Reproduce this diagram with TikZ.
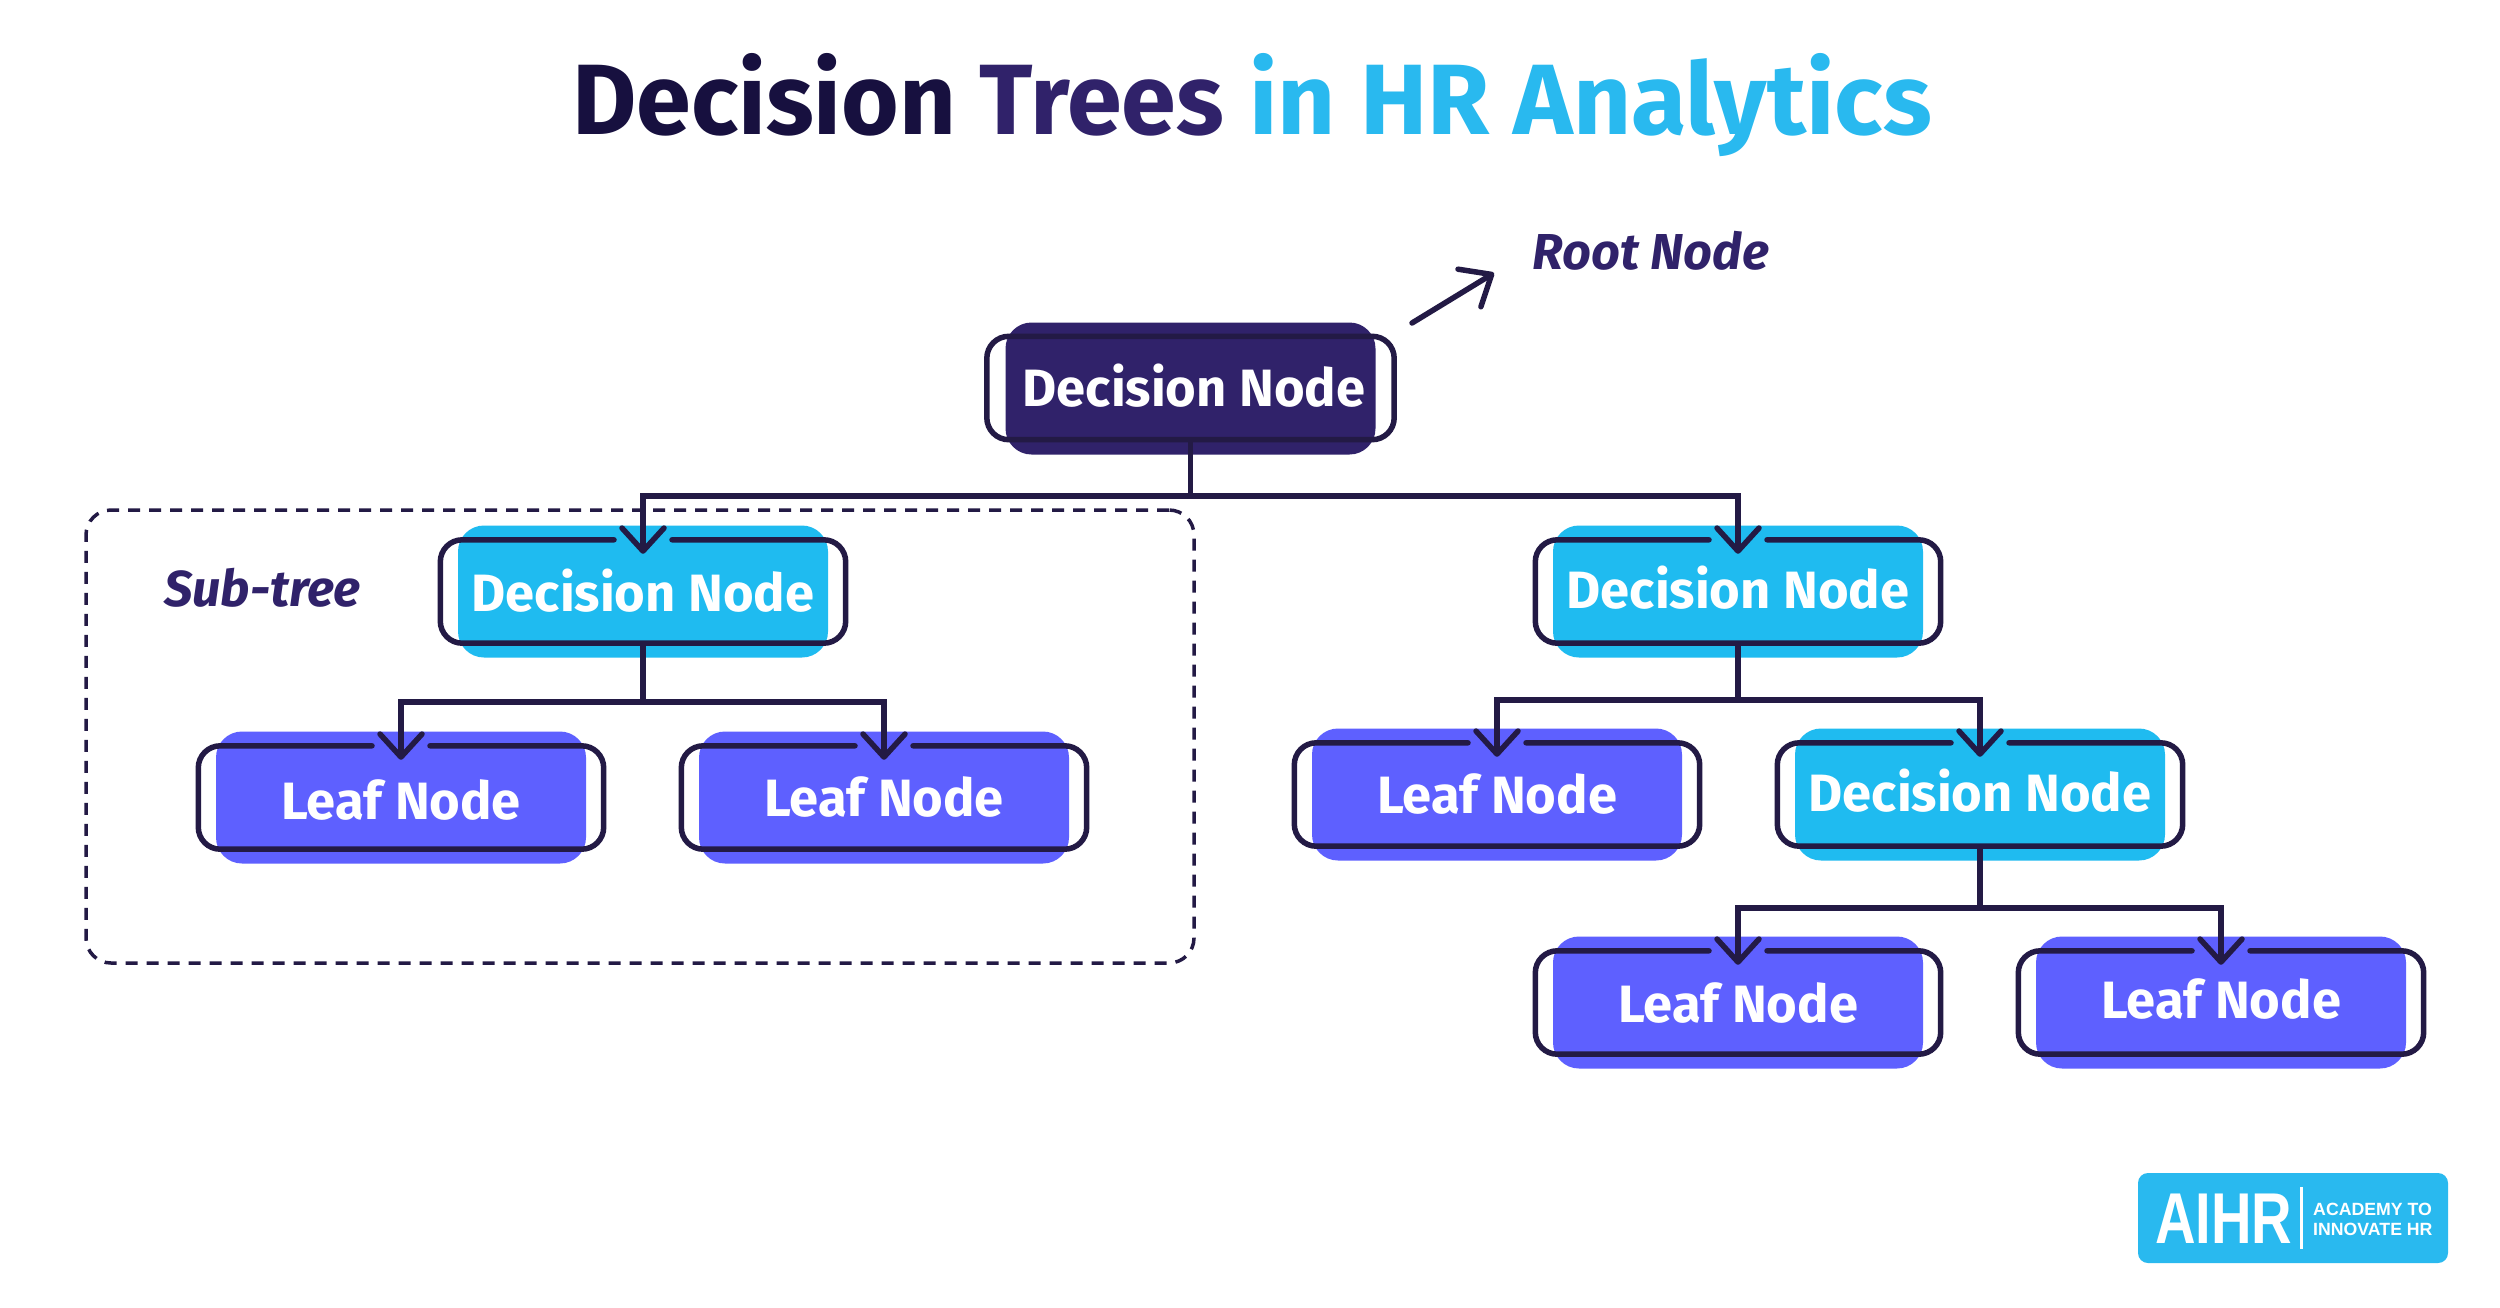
\documentclass[tikz,border=0pt]{standalone}
\usepackage{fontspec}
\usepackage{graphicx}
\setmainfont{Fira Sans}
\newfontfamily\logofont{Liberation Sans}
\usetikzlibrary{arrows.meta,calc}
\definecolor{ink}{HTML}{231A45}
\definecolor{navy}{HTML}{17103F}
\definecolor{plum}{HTML}{30226A}
\definecolor{sky}{HTML}{1FBBF0}
\definecolor{peri}{HTML}{5E60FF}
\definecolor{logosky}{HTML}{29B9EF}
\tikzset{
  x=1pt,y=-1pt,
  fillbox/.style={rectangle,rounded corners=26pt,minimum width=370pt,minimum height=132pt,inner sep=0pt},
  outlinebox/.style={rectangle,minimum width=405pt,minimum height=103pt,inner sep=0pt},
  nodetext/.style={text=white,inner sep=0pt,font=\fontsize{52.5}{60}\selectfont\bfseries},
  frameline/.style={draw=ink,line width=5.5pt,rounded corners=22pt,line cap=round},
  link/.style={draw=ink,line width=5.5pt},
  linkarrow/.style={draw=ink,line width=5.5pt,shorten >=-14pt,-{Straight Barb[length=23pt,width=42pt,line width=5.5pt,round=false]}},
  italiclabel/.style={text=plum,inner sep=0pt,font=\fontsize{50.5}{60}\selectfont\itshape\bfseries},
}
% name, cx, cy, colour, text y, text
\newcommand{\treebox}[6]{%
  \node[fillbox,fill=#4] (#1) at (#2,#3) {};
  \node[outlinebox] (#1-o) at (#2,#3) {};
  \node[nodetext] (#1-t) at (#2,#5) {#6};
  \draw[frameline] ($(#1-o.north)+(-29,0)$) -- (#1-o.north west) -- (#1-o.south west) -- (#1-o.south east) -- (#1-o.north east) -- ($(#1-o.north)+(29,0)$);
}
\begin{document}
\begin{tikzpicture}
\useasboundingbox (0,0) rectangle (2500,1307);
\fill[white] (0,0) rectangle (2500,1307);
% title
\node[inner sep=0pt,anchor=base,font=\fontsize{100}{120}\selectfont\bfseries] (title) at (1252,134)
  {\scalebox{0.988}[1]{\textcolor{navy}{Decision} \textcolor{plum}{Trees}}\hspace{2pt} \scalebox{1.01}[1]{\textcolor{logosky}{in HR Analytics}}};
% sub-tree frame
\node[rectangle,draw=ink,line width=3.5pt,dash pattern=on 12pt off 9pt,rounded corners=25pt,minimum width=1108pt,minimum height=453pt,inner sep=0pt] (subtree) at (640,736.5) {};
\node[italiclabel,anchor=base west] (sublabel) at (164,606) {Sub-tree};
% boxes
\node[fillbox,fill=plum] (root) at (1190.5,388.5) {};
\node[outlinebox,minimum width=407pt] (root-o) at (1190.5,388) {};
\draw[frameline] (root-o.north west) rectangle (root-o.south east);
\node[nodetext] (root-t) at (1194,386) {Decision Node};
\treebox{dl}{643}{591.5}{sky}{591}{Decision Node}
\treebox{dr}{1738}{591.5}{sky}{588}{Decision Node}
\treebox{ll}{401}{797.5}{peri}{800}{Leaf Node}
\treebox{lr}{884}{797.5}{peri}{797}{Leaf Node}
\treebox{rl}{1497}{794.5}{peri}{794}{Leaf Node}
\treebox{rd}{1980}{794.5}{sky}{791}{Decision Node}
\treebox{rrl}{1738}{1002.5}{peri}{1003}{Leaf Node}
\treebox{rrr}{2221}{1002.5}{peri}{999}{Leaf Node}
% connectors
\coordinate (busa) at (1190.5,496);
\coordinate (busb) at (643,702);
\coordinate (busc) at (1738,700);
\coordinate (busd) at (1980,908);
\draw[link] (root-o.south) -- (busa);
\draw[linkarrow] (busa) -| (dl-o.north);
\draw[linkarrow] (busa) -| (dr-o.north);
\draw[link] (dl-o.south) -- (busb);
\draw[linkarrow] (busb) -| (ll-o.north);
\draw[linkarrow] (busb) -| (lr-o.north);
\draw[link] (dr-o.south) -- (busc);
\draw[linkarrow] (busc) -| (rl-o.north);
\draw[linkarrow] (busc) -| (rd-o.north);
\draw[link] (rd-o.south) -- (busd);
\draw[linkarrow] (busd) -| (rrl-o.north);
\draw[linkarrow] (busd) -| (rrr-o.north);
% root label
\node[italiclabel,anchor=base west] (rootlabel) at (1532,269) {Root Node};
\coordinate (rootfrom) at (1412,323);
\coordinate (rootto) at (1494,273);
\draw[draw=ink,line width=5.5pt,line cap=round,-{Straight Barb[length=26pt,width=44pt,line width=5.5pt,round]}] (rootfrom) -- (rootto);
% logo
\node[rectangle,fill=logosky,rounded corners=10pt,minimum width=310pt,minimum height=90pt,inner sep=0pt] (logo) at (2293,1218) {};
\node[inner sep=0pt,anchor=base west,text=white,font=\logofont\bfseries\fontsize{72}{72}\selectfont] (aihr) at (2155,1243) {\scalebox{0.78}[1]{AIHR}};
\node[rectangle,fill=white,minimum width=3pt,minimum height=62pt,inner sep=0pt] (logodiv) at (2301,1218) {};
\node[inner sep=0pt,anchor=base west,text=white,font=\logofont\bfseries\fontsize{17.7}{18}\selectfont] (logoa) at (2313,1215) {ACADEMY TO};
\node[inner sep=0pt,anchor=base west,text=white,font=\logofont\bfseries\fontsize{17.7}{18}\selectfont] (logob) at (2313,1235) {INNOVATE HR};
\end{tikzpicture}
\end{document}
